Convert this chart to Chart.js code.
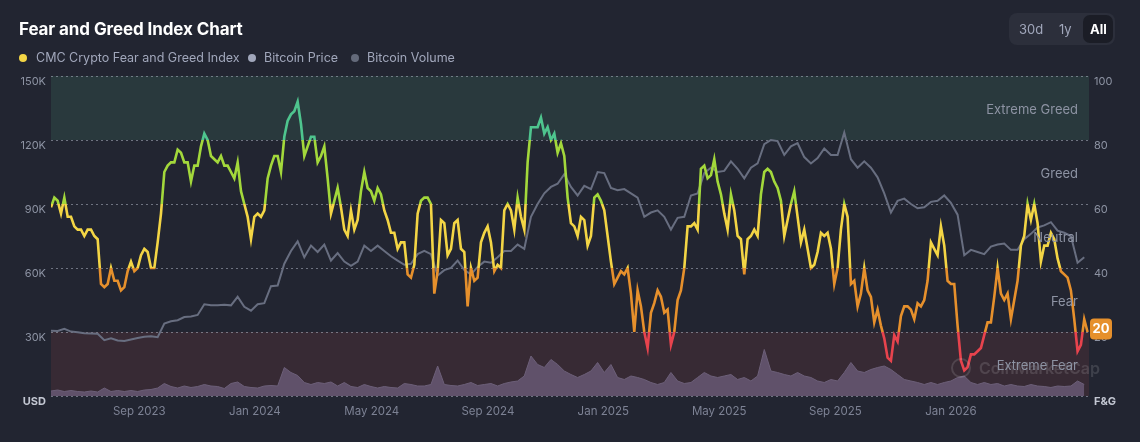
<!DOCTYPE html>
<html>
<head>
<meta charset="utf-8">
<script src="https://cdn.jsdelivr.net/npm/chart.js@4.4.1/dist/chart.umd.min.js"></script>
<style>
  html, body { margin: 0; padding: 0; background: #222531; }
  body { width: 1140px; height: 442px; position: relative; overflow: hidden; font-family: Inter, "Noto Sans", sans-serif; }
  #chart { position: absolute; left: 0; top: 0; }
  .title { position: absolute; left: 19px; top: 19px; color: #fff; font-size: 17px; font-weight: 700; letter-spacing: -0.1px; }
  .leg { position: absolute; top: 50px; font-size: 12.5px; color: #a1a7bb; line-height: 16px; }
  .dot { position: absolute; top: 54px; width: 8px; height: 8px; border-radius: 50%; }
  .range { position: absolute; left: 1009px; top: 13px; width: 106px; height: 32px; background: #2c2f3b; border-radius: 8px; }
  .btn { position: absolute; top: 21px; font-size: 13px; color: #a1a7bb; line-height: 16px; }
  .active { position: absolute; left: 1083px; top: 15px; width: 30px; height: 28px; background: #1b1d26; border-radius: 7px; }
</style>
</head>
<body>
<canvas id="chart" width="1140" height="442"></canvas>
<div class="title">Fear and Greed Index Chart</div>
<div class="dot" style="left:19px;background:#f3d545"></div>
<div class="leg" style="left:36px">CMC Crypto Fear and Greed Index</div>
<div class="dot" style="left:248px;background:#a1a7bb"></div>
<div class="leg" style="left:264px">Bitcoin Price</div>
<div class="dot" style="left:351px;background:#646a7a"></div>
<div class="leg" style="left:367px">Bitcoin Volume</div>
<div class="range"></div>
<div class="active"></div>
<div class="btn" style="left:1019px">30d</div>
<div class="btn" style="left:1059px">1y</div>
<div class="btn" style="left:1090px;color:#fff;font-weight:700">All</div>
<script>
// day 0 = 28 Jun 2023
const fngStep = 3.5;   // index read twice a week
const stepDays = 7;    // price / volume read once a week

const fngValues = [
  59, 62, 61, 57, 62, 56, 56, 53, 52, 52, 50, 52, 52, 50, 49, 35, 34, 35, 40, 36, 36, 33, 34, 39, 42, 39,
  40, 44, 46, 45, 40, 40, 48, 57, 70, 72, 73, 73, 77, 76, 73, 73, 67, 72, 72, 78, 82, 80, 75, 74, 73, 75,
  72, 72, 70, 68, 73, 64, 60, 56, 49, 56, 57, 56, 58, 68, 72, 75, 75, 70, 81, 86, 88, 89, 92, 85, 75, 78,
  81, 81, 73, 75, 78, 68, 57, 61, 65, 59, 52, 50, 58, 52, 55, 64, 70, 65, 64, 61, 65, 63, 58, 55, 51, 51, 46, 48,
  48, 38, 37, 41, 57, 61, 62, 62, 60, 32, 39, 55, 54, 44, 46, 54, 55, 46, 45, 28, 40, 36, 37, 48, 51, 53,
  48, 39, 41, 40, 58, 60, 58, 52, 62, 56, 52, 73, 84, 84, 84, 87, 82, 84, 80, 82, 76, 79, 75, 62, 54, 53, 50, 56,
  55, 47, 50, 62, 63, 61, 58, 50, 42, 35, 37, 39, 38, 40, 32, 20, 33, 28, 20, 15, 26, 29, 33, 31, 26, 27,
  16, 20, 30, 33, 40, 53, 53, 54, 52, 71, 72, 68, 69, 74, 67, 63, 57, 52, 63, 58, 50, 49, 38, 49, 50, 52, 50, 63,
  70, 71, 70, 67, 65, 61, 50, 55, 60, 64, 56, 48, 52, 46, 40, 41, 45, 51, 50, 51, 46, 35, 40, 52, 60, 56,
  35, 36, 28, 32, 40, 33, 31, 23, 27, 22, 18, 12, 11, 19, 17, 25, 28, 28, 27, 24, 29, 28, 30, 36, 48, 46, 44, 53,
  47, 36, 35, 35, 22, 11, 8, 9, 13, 13, 14, 15, 19, 23, 23, 31, 40, 32, 30, 32, 24, 30,
  36, 47, 50, 60, 55, 60, 54, 42, 47, 47, 51, 49, 43, 39, 38, 37, 33, 24, 14, 16, 24, 20
];

// thousand USD
const btcPrice = [
  30.6, 30.5, 31.5, 30.2, 29.9, 29.4, 29.3, 29.2, 26.2, 27.0, 26.0, 25.8, 26.5, 27.2, 27.8, 28.0, 27.6, 34.0, 35.0, 35.5, 37.0, 37.3, 38.0, 43.0, 42.5, 42.5,
  42.8, 42.5, 46.5, 41.8, 40.0, 43.0, 43.5, 51.5, 51.8, 62, 68, 72.5, 65, 70.5, 67.5, 71, 63.5, 67, 63, 61, 63, 70.5, 68, 70.5, 68, 65.5, 63.5,
  61.5, 62, 66.5, 68, 66.5, 56.5, 59, 60, 63.5, 59, 57, 60.5, 63, 62.5, 65, 68, 68, 71, 69, 84, 90, 95, 98, 99.5, 104, 98, 94,
  98.5, 97, 105, 104.5, 97.5, 96.5, 97, 95, 93, 84, 86, 87, 84, 78, 83.5, 84, 94, 95, 104.5, 107, 105, 105.5, 110, 106.5, 102, 107, 109,
  118, 120, 119.5, 113, 117, 118.5, 112, 109, 111.5, 116, 113, 113, 123.5, 111, 107, 110, 107, 102.5, 95, 86, 91.5, 92.5, 90, 88, 88.5, 91, 91.5,
  94, 90.5, 85, 66, 68.5, 67.5, 66.5, 70, 71, 71.5, 68.5, 68.5, 73.5, 76, 79, 80, 81.5, 77.5, 76.5, 75, 62.5, 65
];

// billion USD
const btcVolume = [
  10, 12, 9, 11, 9, 8, 10, 8, 16, 9, 11, 9, 11, 9, 12, 13, 16, 25, 19, 16, 20, 17, 19, 23, 20, 19,
  15, 25, 28, 19, 17, 16, 20, 21, 20, 57, 47, 41, 27, 23, 27, 25, 28, 20, 27, 19, 17, 23, 19, 16, 19, 17, 16,
  25, 23, 20, 20, 23, 60, 23, 21, 20, 23, 27, 21, 23, 25, 20, 25, 28, 30, 40, 80, 63, 57, 73, 63, 50, 43, 37,
  43, 50, 67, 47, 63, 37, 33, 40, 37, 33, 27, 23, 27, 47, 30, 25, 27, 37, 47, 40, 37, 40, 43, 33, 37, 30, 40,
  93, 50, 47, 43, 40, 47, 40, 37, 30, 27, 33, 30, 47, 67, 50, 47, 53, 57, 60, 53, 43, 33, 30, 27, 23, 27, 23,
  27, 30, 37, 40, 27, 23, 27, 23, 25, 20, 23, 20, 19, 23, 20, 19, 17, 20, 19, 20, 30, 23
];

const tickDays = [65, 187, 308, 431, 553, 673, 796, 918];
const tickLabels = ['Sep 2023', 'Jan 2024', 'May 2024', 'Sep 2024', 'Jan 2025', 'May 2025', 'Sep 2025', 'Jan 2026'];

const zoneNames = ['Extreme Fear', 'Fear', 'Neutral', 'Greed', 'Extreme Greed'];

const RED = '#e8434d', ORANGE = '#e6902c', YELLOW = '#f3d545', LIME = '#a3d83b', GREEN = '#4ec58e';

function fngColor(context) {
  const chart = context.chart;
  if (!chart.chartArea) return YELLOW;
  const s = chart.scales.yF;
  const g = chart.ctx.createLinearGradient(0, s.getPixelForValue(0), 0, s.getPixelForValue(100));
  const cols = [RED, ORANGE, YELLOW, LIME, GREEN];
  cols.forEach((c, i) => {
    g.addColorStop(i * 0.2, c);
    g.addColorStop(i * 0.2 + 0.2, c);
  });
  return g;
}

const zonesPlugin = {
  id: 'zones',
  beforeDraw(chart) {
    const {ctx, chartArea: a} = chart;
    const s = chart.scales.yF;
    ctx.save();
    ctx.fillStyle = '#29393d';
    ctx.fillRect(a.left, s.getPixelForValue(100), a.right - a.left, s.getPixelForValue(80) - s.getPixelForValue(100));
    ctx.fillStyle = '#372a34';
    ctx.fillRect(a.left, s.getPixelForValue(20), a.right - a.left, s.getPixelForValue(0) - s.getPixelForValue(20));
    ctx.restore();
  },
  afterDatasetsDraw(chart) {
    const {ctx, chartArea: a} = chart;
    const s = chart.scales.yF;
    ctx.save();
    // watermark
    ctx.globalAlpha = 0.13;
    ctx.strokeStyle = '#ffffff';
    ctx.lineWidth = 2;
    ctx.beginPath();
    ctx.arc(961, 368, 9, 0, Math.PI * 2);
    ctx.stroke();
    ctx.fillStyle = '#ffffff';
    ctx.font = '600 16px Inter';
    ctx.textBaseline = 'middle';
    ctx.fillText('CoinMarketCap', 979, 369);
    ctx.globalAlpha = 1;
    // zone names
    ctx.fillStyle = '#8d93a3';
    ctx.font = '13px Inter';
    ctx.textAlign = 'right';
    zoneNames.forEach((name, i) => {
      ctx.fillText(name, a.right - 11, s.getPixelForValue(i * 20 + 10) + 2);
    });
    ctx.restore();
  },
  afterDraw(chart) {
    const {ctx, chartArea: a} = chart;
    const s = chart.scales.yF;
    const last = fngValues[fngValues.length - 1];
    const y = s.getPixelForValue(last) - 3;
    ctx.save();
    ctx.fillStyle = ORANGE;
    ctx.beginPath();
    ctx.roundRect(a.right + 1, y - 10.5, 22, 21, 4);
    ctx.fill();
    ctx.fillStyle = '#ffffff';
    ctx.font = '700 13px Inter';
    ctx.textAlign = 'center';
    ctx.textBaseline = 'middle';
    ctx.fillText(String(last), a.right + 12, y + 0.5);
    ctx.restore();
  }
};

new Chart(document.getElementById('chart'), {
  type: 'line',
  data: {
    datasets: [
      {
        label: 'CMC Crypto Fear and Greed Index',
        data: fngValues.map((v, i) => ({x: i * fngStep, y: v})),
        yAxisID: 'yF',
        borderColor: fngColor,
        borderWidth: 2.6,
        pointRadius: 0,
        tension: 0,
        order: 0
      },
      {
        label: 'Bitcoin Price',
        data: btcPrice.map((v, i) => ({x: i * stepDays, y: v * 1000})),
        yAxisID: 'y',
        borderColor: '#686e80',
        borderWidth: 2,
        pointRadius: 0,
        tension: 0,
        order: 1
      },
      {
        label: 'Bitcoin Volume',
        data: btcVolume.map((v, i) => ({x: i * stepDays, y: v})),
        yAxisID: 'yV',
        borderColor: '#6c5f78',
        borderWidth: 1,
        backgroundColor: 'rgba(108,92,122,0.78)',
        fill: 'origin',
        pointRadius: 0,
        tension: 0,
        order: 2
      }
    ]
  },
  options: {
    responsive: false,
    animation: false,
    devicePixelRatio: 1,
    layout: {padding: {top: 76, left: 0, right: 0, bottom: 0}},
    plugins: {legend: {display: false}, tooltip: {enabled: false}},
    scales: {
      x: {
        type: 'linear',
        min: 0,
        max: 1090,
        afterBuildTicks: axis => { axis.ticks = tickDays.map(v => ({value: v})); },
        afterFit: axis => { axis.height = 46; },
        grid: {display: false, drawTicks: false},
        border: {display: false},
        ticks: {
          autoSkip: false,
          maxRotation: 0,
          align: 'start',
          padding: 9,
          color: '#7d8294',
          font: {family: 'Inter', size: 11.5},
          callback: v => tickLabels[tickDays.indexOf(v)]
        }
      },
      y: {
        position: 'left',
        min: 0,
        max: 150000,
        afterFit: axis => { axis.width = 51; },
        grid: {display: false, drawTicks: false},
        border: {display: false},
        ticks: {
          stepSize: 30000,
          padding: 5,
          labelOffset: 6,
          color: ctx => ctx.tick.value === 0 ? '#c3c7d2' : '#8d93a3',
          font: ctx => ({family: 'Inter', size: 11, weight: ctx.tick && ctx.tick.value === 0 ? '700' : '400'}),
          callback: v => v === 0 ? 'USD' : (v / 1000) + 'K'
        }
      },
      yF: {
        position: 'right',
        min: 0,
        max: 100,
        afterFit: axis => { axis.width = 51; },
        grid: {color: 'rgba(175,180,195,0.55)', lineWidth: 1, drawTicks: false},
        border: {display: false, dash: [2, 3]},
        ticks: {
          stepSize: 20,
          padding: 5,
          labelOffset: 6,
          color: ctx => ctx.tick.value === 0 ? '#c3c7d2' : '#8d93a3',
          font: ctx => ({family: 'Inter', size: 11, weight: ctx.tick && ctx.tick.value === 0 ? '700' : '400'}),
          callback: v => v === 0 ? 'F&G' : String(v)
        }
      },
      yV: {
        display: false,
        min: 0,
        max: 640
      }
    }
  },
  plugins: [zonesPlugin]
});
</script>
</body>
</html>
